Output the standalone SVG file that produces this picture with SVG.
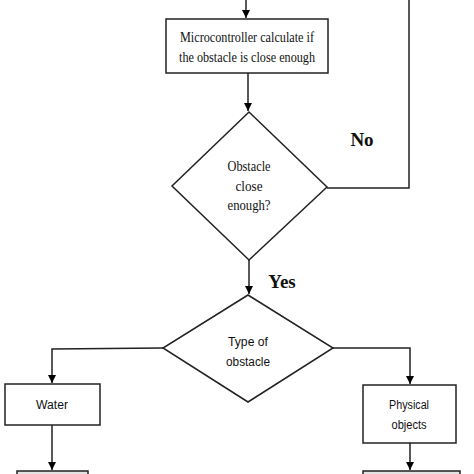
<svg xmlns="http://www.w3.org/2000/svg" width="474" height="474" viewBox="0 0 474 474">
<defs>
<marker id="ah" viewBox="0 0 10 10" refX="10" refY="5" markerWidth="8" markerHeight="10" markerUnits="userSpaceOnUse" orient="auto">
<path d="M0,0 L10,5 L0,10 z" fill="#000"/>
</marker>
<style>
.shape{fill:#fff;stroke:#222;stroke-width:1.5}
.grey{fill:#e3e3e3;stroke:#222;stroke-width:1.5}
.line{fill:none;stroke:#222;stroke-width:1.5}
.arr{fill:none;stroke:#222;stroke-width:1.5;marker-end:url(#ah)}
.serif{font-family:"Liberation Serif","DejaVu Serif",serif;font-size:14.5px;fill:#111;text-anchor:middle}
.sans{font-family:"Liberation Sans","DejaVu Sans",sans-serif;font-size:12.5px;fill:#111;text-anchor:middle}
.big{font-family:"Liberation Serif","DejaVu Serif",serif;font-size:19px;font-weight:bold;fill:#111;text-anchor:middle}
</style>
</defs>
<g id="connectors">
<path class="arr" d="M246,0 L246,18"/>
<path class="arr" d="M248,73 L248,111"/>
<path class="line" d="M327,188 L409,188 L409,0"/>
<path class="arr" d="M249,260 L249,294"/>
<path class="arr" d="M163,348 L52,349 L52,383"/>
<path class="arr" d="M333,348 L410,348 L410,384"/>
<path class="arr" d="M52,425 L52,470"/>
<path class="arr" d="M410,443 L410,470"/>
</g>
<g id="calc">
<rect class="shape" x="166" y="19" width="162" height="54"/>
<text class="serif" x="247" y="42" textLength="134" lengthAdjust="spacingAndGlyphs">Microcontroller calculate if</text>
<text class="serif" x="247" y="62" textLength="136" lengthAdjust="spacingAndGlyphs">the obstacle is close enough</text>
</g>
<g id="close">
<polygon class="shape" points="249,112 327,187 249,260 172,186"/>
<text class="serif" x="249" y="171" textLength="43" lengthAdjust="spacingAndGlyphs">Obstacle</text>
<text class="serif" x="249" y="191" textLength="27" lengthAdjust="spacingAndGlyphs">close</text>
<text class="serif" x="249" y="210" textLength="43" lengthAdjust="spacingAndGlyphs">enough?</text>
</g>
<text class="big" x="362" y="146">No</text>
<text class="big" x="282" y="288">Yes</text>
<g id="type">
<polygon class="shape" points="248,295 333,348 248,402 163,348"/>
<text class="sans" x="248" y="346" textLength="40" lengthAdjust="spacingAndGlyphs">Type of</text>
<text class="sans" x="248" y="366" textLength="44" lengthAdjust="spacingAndGlyphs">obstacle</text>
</g>
<g id="water">
<rect class="shape" x="5" y="384" width="95" height="41"/>
<text class="sans" x="52" y="409" textLength="32" lengthAdjust="spacingAndGlyphs">Water</text>
</g>
<g id="physical">
<rect class="shape" x="363" y="385" width="93" height="58"/>
<text class="sans" x="409" y="409" textLength="40" lengthAdjust="spacingAndGlyphs">Physical</text>
<text class="sans" x="409" y="429" textLength="35" lengthAdjust="spacingAndGlyphs">objects</text>
</g>
<g id="waterNext">
<rect class="grey" x="17" y="471" width="71" height="10"/>
</g>
<g id="physicalNext">
<rect class="grey" x="363" y="471" width="97" height="10"/>
</g>
</svg>
